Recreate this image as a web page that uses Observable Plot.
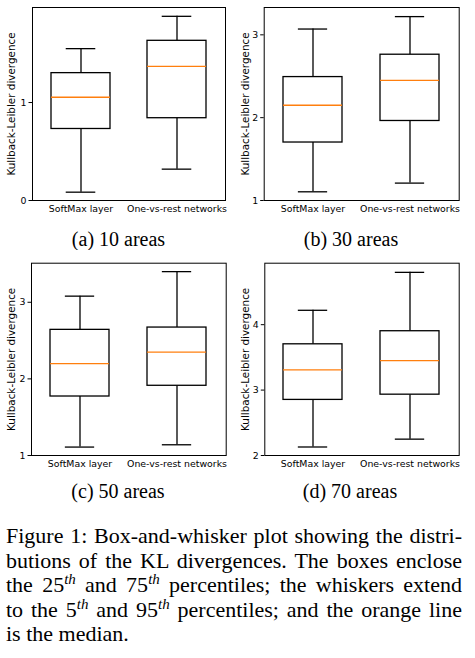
<!DOCTYPE html>
<html>
<head>
<meta charset="utf-8">
<script src="https://cdn.jsdelivr.net/npm/d3@7"></script>
<script src="https://cdn.jsdelivr.net/npm/@observablehq/plot@0.6"></script>
<style>
  html, body { margin: 0; padding: 0; background: #fff; }
  #fig { position: relative; width: 475px; height: 658px; overflow: hidden; }
  .panel { position: absolute; }
  .sub { position: absolute; font-family: "Liberation Serif", "Times New Roman", Times, "DejaVu Serif", serif; font-size: 20px; line-height: 20px; color: #000; white-space: nowrap; transform: translateX(-50%); }
  #caption { position: absolute; left: 6px; top: 524px; width: 456px; font-family: "Liberation Serif", "Times New Roman", Times, "DejaVu Serif", serif; font-size: 22px; line-height: 24.6px; color: #000; }
  #caption div { text-align: justify; text-align-last: justify; white-space: nowrap; }
  #caption div.last { text-align-last: left; }
  .sup { font-size: 15px; font-style: italic; position: relative; top: -8px; line-height: 0; }
</style>
</head>
<body>
<div id="fig"></div>
<script>
// ---- data ----
const groups = ["SoftMax layer", "One-vs-rest networks"];
const panelTitles = ["(a) 10 areas", "(b) 30 areas", "(c) 50 areas", "(d) 70 areas"];
const yLabel = "Kullback-Leibler divergence";
// per panel: [SoftMax, One-vs-rest]
const p05 = [[0.085, 0.32], [1.105, 1.21], [1.11, 1.14], [2.13, 2.25]];
const p25 = [[0.73, 0.84], [1.70, 1.96], [1.77, 1.91], [2.85, 2.93]];
const p50 = [[1.054, 1.37], [2.15, 2.45], [2.20, 2.35], [3.31, 3.45]];
const p75 = [[1.30, 1.63], [2.49, 2.76], [2.64, 2.67], [3.70, 3.90]];
const p95 = [[1.55, 1.88], [3.07, 3.22], [3.08, 3.40], [4.22, 4.80]];
const yDomains = [[0, 1.97], [1, 3.33], [1, 3.51], [2, 4.94]];
const yTicks = [[0, 1], [1, 2, 3], [1, 2, 3], [2, 3, 4]];

// ---- layout ----
const layout = [
  {left: 0,   top: 0,   width: 237, height: 218, ml: 32,   mr: 12,   mt: 7,    lo: 24.5, cx: 118.5, cy: 229},
  {left: 237, top: 0,   width: 238, height: 218, ml: 26.7, mr: 16.3, mt: 7,    lo: 22.5, cx: 351,   cy: 229},
  {left: 0,   top: 250, width: 237, height: 223, ml: 31,   mr: 11.3, mt: 12.7, lo: 23.5, cx: 118,   cy: 481},
  {left: 237, top: 250, width: 238, height: 223, ml: 27.3, mr: 16.3, mt: 12.7, lo: 23,   cx: 350,   cy: 481}
];

const fig = document.getElementById("fig");
const orange = "#ff7f0e";
const lw = 1.3;

panelTitles.forEach((title, i) => {
  const L = layout[i];
  const rows = groups.map((g, j) => ({
    group: g, lo: p05[i][j], q1: p25[i][j], med: p50[i][j], q3: p75[i][j], hi: p95[i][j]
  }));
  const frameW = L.width - L.ml - L.mr;
  const cap = frameW / 2 * 0.61 / 4;
  const chart = Plot.plot({
    width: L.width,
    height: L.height,
    marginLeft: L.ml,
    marginRight: L.mr,
    marginTop: L.mt,
    marginBottom: 18,
    style: {fontFamily: "DejaVu Sans", fontSize: "9.4px", color: "#000", background: "#fff", overflow: "visible"},
    x: {type: "band", domain: groups, paddingInner: 0.39, paddingOuter: 0.195, label: null},
    y: {domain: yDomains[i], label: null},
    marks: [
      Plot.ruleX(rows, {x: "group", y1: "lo", y2: "q1", stroke: "#000", strokeWidth: lw}),
      Plot.ruleX(rows, {x: "group", y1: "q3", y2: "hi", stroke: "#000", strokeWidth: lw}),
      Plot.tickY(rows, {x: "group", y: "lo", stroke: "#000", strokeWidth: lw, insetLeft: cap, insetRight: cap}),
      Plot.tickY(rows, {x: "group", y: "hi", stroke: "#000", strokeWidth: lw, insetLeft: cap, insetRight: cap}),
      Plot.barY(rows, {x: "group", y1: "q1", y2: "q3", fill: "#fff", stroke: "#000", strokeWidth: lw}),
      Plot.tickY(rows, {x: "group", y: "med", stroke: orange, strokeWidth: 1.3}),
      Plot.frame({stroke: "#000", strokeWidth: 1}),
      Plot.axisY({ticks: yTicks[i], tickSize: 3.5, tickPadding: 2.5, tickFormat: d3.format("d"),
        label: yLabel, labelAnchor: "center", labelArrow: "none", labelOffset: L.lo}),
      Plot.axisX({tickSize: 0, tickPadding: 5, label: null})
    ]
  });
  const div = document.createElement("div");
  div.className = "panel";
  div.style.left = L.left + "px";
  div.style.top = L.top + "px";
  div.appendChild(chart);
  fig.appendChild(div);
  chart.querySelectorAll("g[aria-label='y-axis label'] text").forEach(t => t.setAttribute("font-size", "10.4px"));

  const sub = document.createElement("div");
  sub.className = "sub";
  sub.style.left = L.cx + "px";
  sub.style.top = L.cy + "px";
  sub.textContent = title;
  fig.appendChild(sub);
});

const cap = document.createElement("div");
cap.id = "caption";
cap.innerHTML =
  '<div>Figure 1: Box-and-whisker plot showing the distri-</div>' +
  '<div>butions of the KL divergences. The boxes enclose</div>' +
  '<div>the 25<span class="sup">th</span> and 75<span class="sup">th</span> percentiles; the whiskers extend</div>' +
  '<div>to the 5<span class="sup">th</span> and 95<span class="sup">th</span> percentiles; and the orange line</div>' +
  '<div class="last">is the median.</div>';
fig.appendChild(cap);
</script>
</body>
</html>
